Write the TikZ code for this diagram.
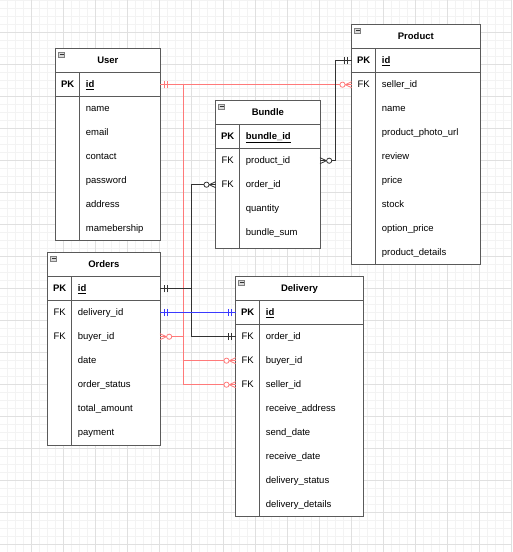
\documentclass[tikz,border=0pt]{standalone}
\usepackage{fontspec}
\setmainfont{Liberation Sans}
\usetikzlibrary{decorations.markings}
\definecolor{tblborder}{HTML}{5A5A5A}
\definecolor{redln}{HTML}{FF7A7A}
\definecolor{blueln}{HTML}{3A3AFF}
\definecolor{blackln}{HTML}{333333}
\definecolor{gridminor}{HTML}{F3F3F3}
\definecolor{gridmajor}{HTML}{E0E0E0}
\newcommand\txtfont{\fontsize{9.5}{11}\selectfont}
\tikzset{
  tblframe/.style={draw=tblborder, fill=white, line width=0.9pt, inner sep=0, outer sep=0},
  tblline/.style={draw=tblborder, line width=0.9pt},
  rowbox/.style={inner sep=0, outer sep=0, minimum height=24pt},
  keytext/.style={inner sep=0, font=\txtfont, text height=7pt, text depth=1pt},
  fieldtext/.style={inner sep=0, font=\txtfont, text height=7pt, text depth=1pt, anchor=west},
  titletext/.style={inner sep=0, font=\txtfont\bfseries, text height=7pt, text depth=1pt},
  iconbox/.style={draw=black!50, fill=black!15, minimum width=6pt, minimum height=5pt, inner sep=0, line width=0.5pt},
  iconbar/.style={draw=black!80, line width=0.9pt},
  conn/.style={line width=0.8pt},
  redconn/.style={conn, color=redln},
  blueconn/.style={conn, color=blueln},
  blackconn/.style={conn, color=blackln},
  oneStart/.style={postaction={decorate, decoration={markings,
    mark=at position 4pt with {\draw[line width=0.8pt] (0pt,-3.5pt) -- (0pt,3.5pt);},
    mark=at position 7pt with {\draw[line width=0.8pt] (0pt,-3.5pt) -- (0pt,3.5pt);}}}},
  oneEnd/.style={postaction={decorate, decoration={markings,
    mark=at position -7pt with {\draw[line width=0.8pt] (0pt,-3.5pt) -- (0pt,3.5pt);},
    mark=at position -4pt with {\draw[line width=0.8pt] (0pt,-3.5pt) -- (0pt,3.5pt);}}}},
  manyEnd/.style={postaction={decorate, decoration={markings,
    mark=at position -6.5pt with {\draw[line width=0.8pt] (0pt,0pt) -- (6.5pt,3pt) (0pt,0pt) -- (6.5pt,-3pt);
      \draw[line width=0.8pt, fill=white] (-2.7pt,0pt) circle (2.6pt);}}}},
  manyStart/.style={postaction={decorate, decoration={markings,
    mark=at position 6.5pt with {\draw[line width=0.8pt] (0pt,0pt) -- (-6.5pt,3pt) (0pt,0pt) -- (-6.5pt,-3pt);
      \draw[line width=0.8pt, fill=white] (2.7pt,0pt) circle (2.6pt);}}}},
}
% #1 name, #2 left, #3 top, #4 width, #5 height, #6 title
\newcommand\ertable[6]{%
  \node[tblframe, minimum width=#4pt, minimum height=#5pt, anchor=north west] (#1) at (#2,#3) {};
  \draw[tblline] ([yshift=-24pt]#1.north west) -- ([yshift=-24pt]#1.north east);
  \draw[tblline] ([yshift=-48pt]#1.north west) -- ([yshift=-48pt]#1.north east);
  \draw[tblline] ([shift={(24pt,-24pt)}]#1.north west) -- ([xshift=24pt]#1.south west);
  \node[titletext] (#1-title) at ([yshift=-12pt]#1.north) {#6};
  \node[iconbox] (#1-icon) at ([shift={(6pt,-6pt)}]#1.north west) {};
  \draw[iconbar] ([xshift=1.3pt]#1-icon.west) -- ([xshift=-1.3pt]#1-icon.east);
}
% #1 name, #2 table, #3 index, #4 key, #5 field, #6 width
\newcommand\errow[6]{%
  \node[rowbox, minimum width=#6pt, anchor=west] (#1) at ([yshift={-(36+24*#3)*1pt}]#2.north west) {};
  \node[keytext] (#1-k) at ([xshift=12pt]#1.west) {#4};
  \node[fieldtext] (#1-f) at ([xshift=30pt]#1.west) {#5};
}
\begin{document}
\begin{tikzpicture}[x=1pt, y=-1pt]
\useasboundingbox (0,0) rectangle (512,552);
\fill[white] (0,0) rectangle (512,552);
\foreach \g in {7.5,15.5,...,511.5} \draw[gridminor, line width=0.8pt] (\g,0) -- (\g,552);
\foreach \g in {0.5,8.5,...,551.5} \draw[gridminor, line width=0.8pt] (0,\g) -- (512,\g);
\foreach \g in {31.5,63.5,...,511.5} \draw[gridmajor, line width=0.8pt] (\g,0) -- (\g,552);
\foreach \g in {32.5,64.5,...,551.5} \draw[gridmajor, line width=0.8pt] (0,\g) -- (512,\g);

% User
\ertable{user}{55.7}{48.7}{104.3}{192}{User}
\errow{user-id}{user}{0}{\textbf{PK}}{\textbf{\underline{id}}}{104.3}
\errow{user-name}{user}{1}{}{name}{104.3}
\errow{user-email}{user}{2}{}{email}{104.3}
\errow{user-contact}{user}{3}{}{contact}{104.3}
\errow{user-password}{user}{4}{}{password}{104.3}
\errow{user-address}{user}{5}{}{address}{104.3}
\errow{user-membership}{user}{6}{}{mamebership}{104.3}

% Bundle
\ertable{bundle}{215.7}{100.7}{104.3}{148}{Bundle}
\errow{bundle-id}{bundle}{0}{\textbf{PK}}{\textbf{\underline{bundle\_id}}}{104.3}
\errow{bundle-product}{bundle}{1}{FK}{product\_id}{104.3}
\errow{bundle-order}{bundle}{2}{FK}{order\_id}{104.3}
\errow{bundle-qty}{bundle}{3}{}{quantity}{104.3}
\errow{bundle-sum}{bundle}{4}{}{bundle\_sum}{104.3}

% Product
\ertable{product}{351.7}{24.7}{128.3}{240}{Product}
\errow{product-id}{product}{0}{\textbf{PK}}{\textbf{\underline{id}}}{128.3}
\errow{product-seller}{product}{1}{FK}{seller\_id}{128.3}
\errow{product-name}{product}{2}{}{name}{128.3}
\errow{product-photo}{product}{3}{}{product\_photo\_url}{128.3}
\errow{product-review}{product}{4}{}{review}{128.3}
\errow{product-price}{product}{5}{}{price}{128.3}
\errow{product-stock}{product}{6}{}{stock}{128.3}
\errow{product-option}{product}{7}{}{option\_price}{128.3}
\errow{product-details}{product}{8}{}{product\_details}{128.3}

% Orders
\ertable{orders}{47.7}{252.7}{112.3}{192.3}{Orders}
\errow{orders-id}{orders}{0}{\textbf{PK}}{\textbf{\underline{id}}}{112.3}
\errow{orders-delivery}{orders}{1}{FK}{delivery\_id}{112.3}
\errow{orders-buyer}{orders}{2}{FK}{buyer\_id}{112.3}
\errow{orders-date}{orders}{3}{}{date}{112.3}
\errow{orders-status}{orders}{4}{}{order\_status}{112.3}
\errow{orders-total}{orders}{5}{}{total\_amount}{112.3}
\errow{orders-payment}{orders}{6}{}{payment}{112.3}

% Delivery
\ertable{delivery}{235.7}{276.7}{127.6}{240}{Delivery}
\errow{delivery-id}{delivery}{0}{\textbf{PK}}{\textbf{\underline{id}}}{127.6}
\errow{delivery-order}{delivery}{1}{FK}{order\_id}{127.6}
\errow{delivery-buyer}{delivery}{2}{FK}{buyer\_id}{127.6}
\errow{delivery-seller}{delivery}{3}{FK}{seller\_id}{127.6}
\errow{delivery-raddr}{delivery}{4}{}{receive\_address}{127.6}
\errow{delivery-send}{delivery}{5}{}{send\_date}{127.6}
\errow{delivery-rdate}{delivery}{6}{}{receive\_date}{127.6}
\errow{delivery-status}{delivery}{7}{}{delivery\_status}{127.6}
\errow{delivery-details}{delivery}{8}{}{delivery\_details}{127.6}

% bend points
\coordinate (redbus) at (183.3,84.7);
\coordinate (pbus) at (335,60.7);
\coordinate (obus) at (191.7,288.7);

% red: User.id relations
\draw[redconn, oneStart, manyEnd] (user-id.east) -- (redbus) |- (orders-buyer.east);
\draw[redconn, oneStart, manyEnd] (user-id.east) -- (redbus) |- (delivery-buyer.west);
\draw[redconn, oneStart, manyEnd] (user-id.east) -- (redbus) |- (delivery-seller.west);
\draw[redconn, oneStart, manyEnd] (user-id.east) -- (product-seller.west);

% black
\draw[blackconn, manyStart, oneEnd] (bundle-product.east) -| (pbus) -- (product-id.west);
\draw[blackconn, oneStart, manyEnd] (orders-id.east) -- (obus) |- (bundle-order.west);
\draw[blackconn, oneStart, oneEnd] (orders-id.east) -- (obus) |- (delivery-order.west);

% blue
\draw[blueconn, oneStart, oneEnd] (orders-delivery.east) -- (delivery-id.west);
\end{tikzpicture}
\end{document}
